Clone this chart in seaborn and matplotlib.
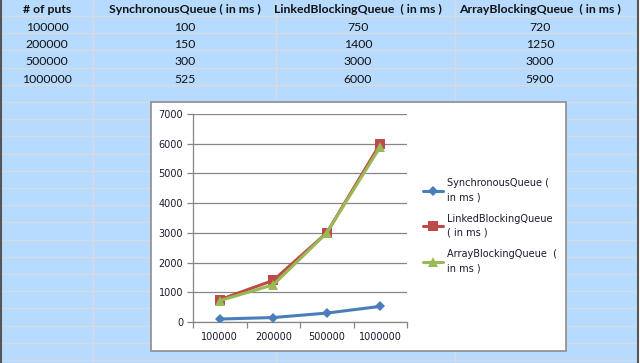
import numpy as np
import pandas as pd
import matplotlib
matplotlib.use("Agg")
import matplotlib.pyplot as plt
import seaborn as sns
from matplotlib.patches import Rectangle

# data as read from the sheet
puts = ["100000", "200000", "500000", "1000000"]
sync_ms = [100, 150, 300, 525]
linked_ms = [750, 1400, 3000, 6000]
array_ms = [720, 1250, 3000, 5900]

headers = ["# of puts", "SynchronousQueue ( in ms )",
           "LinkedBlockingQueue  ( in ms )", "ArrayBlockingQueue  ( in ms )"]
series_names = ["SynchronousQueue (\nin ms )", "LinkedBlockingQueue\n( in ms )",
                "ArrayBlockingQueue  (\nin ms )"]
colors = ["#4a7ebb", "#be4b48", "#98b954"]
markers = ["D", "s", "^"]

sns.set_style("white")
plt.rcParams['font.family'] = ['DejaVu Sans']

fig = plt.figure(figsize=(6.4, 3.63), dpi=100)

# spreadsheet background, pixel coordinates
bg = fig.add_axes([0, 0, 1, 1])
bg.set_xlim(0, 640)
bg.set_ylim(363, 0)
bg.axis("off")
bg.add_patch(Rectangle((0, 0), 637, 363, color="#b7dbff", zorder=0))
for y in np.arange(16, 363, 17.2):
    bg.plot([0, 637], [y, y], color="#d6dbe2", lw=1, zorder=1)
for x in [93, 276, 455]:
    bg.plot([x, x], [0, 363], color="#d6dbe2", lw=1, zorder=1)
bg.plot([1, 1], [0, 363], color="#555555", lw=1.5, zorder=2)
bg.plot([637.5, 637.5], [0, 363], color="#555555", lw=1.5, zorder=2)

col_x = [47, 185, 358, 540]
table_font = ['Lato', 'DejaVu Sans']
for cx, h in zip(col_x, headers):
    bg.text(cx, 9.5, h, ha="center", va="center", fontsize=8.8,
            fontweight="bold", family=table_font, color="#111111", zorder=3)
rows = list(zip(puts, sync_ms, linked_ms, array_ms))
for i, row in enumerate(rows):
    y = 27.5 + 17.2 * i
    for cx, v in zip(col_x, row):
        bg.text(cx, y, str(v), ha="center", va="center", fontsize=8.8,
                family=table_font, color="#111111", zorder=3)

# chart box
bg.add_patch(Rectangle((151, 102), 415, 249, facecolor="white",
                       edgecolor="#8c8c8c", lw=1.2, zorder=4))

# the chart
ax = fig.add_axes([193 / 640, 1 - 322 / 363, 214 / 640, 208 / 363])
ax.set_facecolor("none")
df = pd.DataFrame({
    "pos": list(range(len(puts))) * 3,
    "ms": sync_ms + linked_ms + array_ms,
    "series": np.repeat(series_names, len(puts)),
})
sizes = {"D": 5, "s": 6.5, "^": 7}
for name, c, m in zip(series_names, colors, markers):
    sub = df[df["series"] == name]
    sns.lineplot(data=sub, x="pos", y="ms", ax=ax, color=c, marker=m,
                 markersize=sizes[m], markeredgewidth=0, lw=2.2,
                 label=name, zorder=5)

ax.set_xlim(-0.5, 3.5)
ax.set_ylim(0, 7000)
ax.set_yticks(range(0, 7001, 1000))
ax.set_xticks(range(len(puts)))
ax.set_xticklabels(puts)
ax.set_xticks(np.arange(-0.5, 3.6, 1), minor=True)
ax.set_xlabel("")
ax.set_ylabel("")
ax.yaxis.grid(True, color="#868686", lw=0.9)
ax.xaxis.grid(False)
for s in ["top", "right"]:
    ax.spines[s].set_visible(False)
for s in ["left", "bottom"]:
    ax.spines[s].set_color("#868686")
    ax.spines[s].set_linewidth(0.9)
ax.tick_params(axis="y", which="major", length=4, width=0.9, color="#868686",
               labelsize=7, labelcolor="#1a1a2e", left=True, pad=3)
ax.tick_params(axis="x", which="major", length=0, labelsize=7,
               labelcolor="#1a1a2e", pad=7)
ax.tick_params(axis="x", which="minor", length=4, width=0.9,
               color="#868686", bottom=True)
ax.set_axisbelow(True)

handles, labels = ax.get_legend_handles_labels()
leg = ax.legend(handles, labels, loc="upper left",
                bbox_to_anchor=(423 / 640, 1 - 178 / 363),
                bbox_transform=fig.transFigure, frameon=False, fontsize=7,
                handlelength=2.1, handletextpad=0.4, labelspacing=1.15,
                borderaxespad=0, borderpad=0)
for t in leg.get_texts():
    t.set_linespacing(1.55)
    t.set_color("#1a1a2e")

fig.savefig("out.png", dpi=100)
